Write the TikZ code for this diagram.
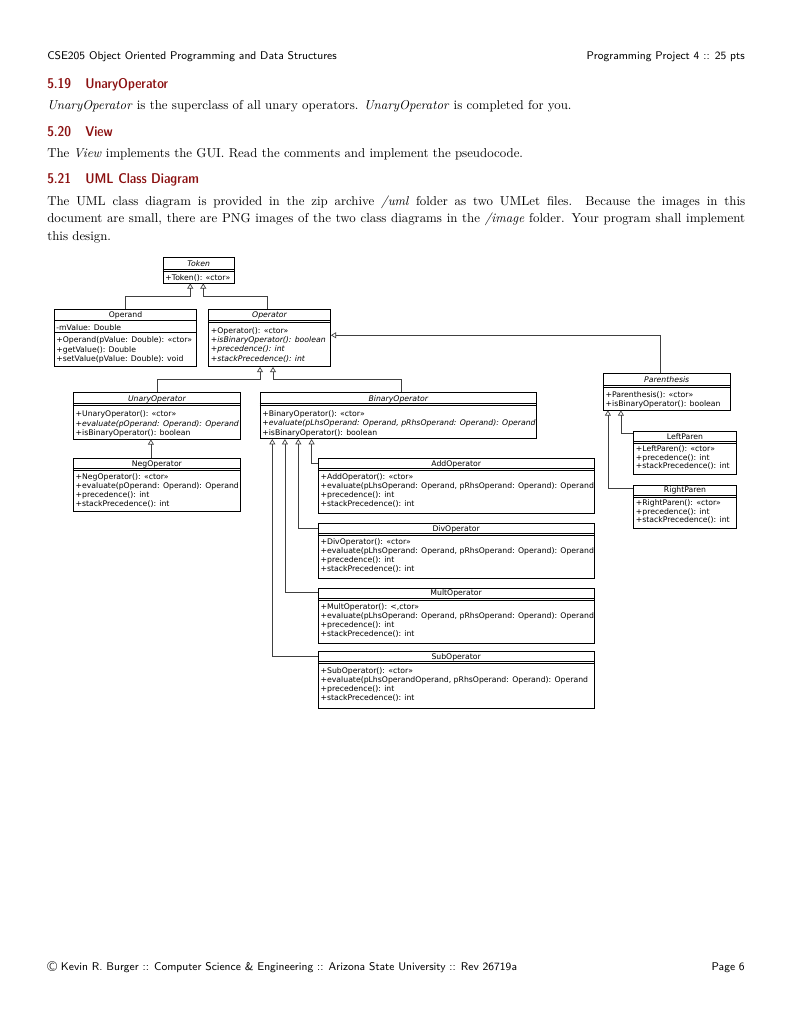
\documentclass[tikz,border=0pt]{standalone}
\usepackage{fontspec}
\newfontfamily\umlfont{DejaVu Sans}
\usetikzlibrary{arrows.meta, calc, fit}
\definecolor{secred}{RGB}{139,16,16}

\tikzset{
  hdr/.style={font={\fontsize{8.7}{10.5}\sffamily}, inner sep=0pt},
  sec/.style={font={\fontsize{11}{13}\fontseries{sbc}\sffamily}, text=secred, anchor=base west, inner sep=0pt},
  body/.style={font=\normalsize, anchor=base west, inner sep=0pt},
  cls/.style={draw, line width=0.6bp, inner sep=0pt},
  ctitle/.style={font={\umlfont\fontsize{6}{6}\selectfont}, inner sep=0pt, anchor=center},
  crow/.style={font={\umlfont\fontsize{6}{6}\selectfont}, inner sep=0pt, anchor=mid west},
  sepline/.style={line width=0.5bp},
  genarrow/.style={draw=black!75, line width=0.5bp, -{Triangle[open, length=4bp, width=4.6bp]}}
}

\begin{document}
\begin{tikzpicture}[x=0.7737bp, y=-0.7737bp]
  \useasboundingbox[fill=white] (0,0) rectangle (791,1024);

  % --- page header ---
  \node[hdr, anchor=base west] (hleft)  at (47,59.5)  {CSE205 Object Oriented Programming and Data Structures};
  \node[hdr, anchor=base east] (hright) at (745,59.5) {Programming Project 4 :: 25 pts};

  % --- sections and text ---
  \node[sec]  (s519) at (47,89)    {5.19\quad UnaryOperator};
  \node[body] (t519) at (47,110)   {\textit{UnaryOperator} is the superclass of all unary operators. \textit{UnaryOperator} is completed for you.};
  \node[sec]  (s520) at (47,136.5) {5.20\quad View};
  \node[body] (t520) at (47,157.5) {The \textit{View} implements the GUI. Read the comments and implement the pseudocode.};
  \node[sec]  (s521) at (47,184)   {5.21\quad UML Class Diagram};
  \node[body] (p1) at (47,205.5) {\makebox[540bp][s]{The UML class diagram is provided in the zip archive \textit{/uml} folder as two UMLet files. Because the images in this}};
  \node[body] (p2) at (47,222.7) {\makebox[540bp][s]{document are small, there are PNG images of the two class diagrams in the \textit{/image} folder. Your program shall implement}};
  \node[body] (p3) at (47,240)   {this design.};

  % --- class boxes ---
  \node[cls, fit={(163,257) (234.5,283)}]       (tok)      {};
  \node[cls, fit={(54.5,309) (196.5,366.5)}]    (operand)  {};
  \node[cls, fit={(208.5,309) (330.5,366.5)}]   (operator) {};
  \node[cls, fit={(603.3,373.5) (730,410)}]     (paren)    {};
  \node[cls, fit={(73.3,392.7) (240.5,439)}]    (unary)    {};
  \node[cls, fit={(260,392.7) (536.7,438.7)}]   (binary)   {};
  \node[cls, fit={(73.3,458) (240.5,511.5)}]    (neg)      {};
  \node[cls, fit={(318.3,458.5) (594,513.5)}]   (add)      {};
  \node[cls, fit={(318.3,523.5) (594,578.3)}]   (div)      {};
  \node[cls, fit={(318.3,588) (594,643.3)}]     (mult)     {};
  \node[cls, fit={(318.3,651.7) (594,708)}]     (sub)      {};
  \node[cls, fit={(633.5,431) (736.5,474.5)}]   (lparen)   {};
  \node[cls, fit={(633.5,485.5) (736.5,528)}]   (rparen)   {};

  % titles
  \node[ctitle] (tok-t)      at ($(tok.north)+(0,7.5)$)      {\itshape Token};
  \node[ctitle] (operand-t)  at ($(operand.north)+(0,6.5)$)  {Operand};
  \node[ctitle] (operator-t) at ($(operator.north)+(0,6.5)$) {\itshape Operator};
  \node[ctitle] (paren-t)    at ($(paren.north)+(0,6.8)$)    {\itshape Parenthesis};
  \node[ctitle] (unary-t)    at ($(unary.north)+(0,7)$)      {\itshape UnaryOperator};
  \node[ctitle] (binary-t)   at ($(binary.north)+(0,7)$)     {\itshape BinaryOperator};
  \node[ctitle] (neg-t)      at ($(neg.north)+(0,6.5)$)      {NegOperator};
  \node[ctitle] (add-t)      at ($(add.north)+(0,6)$)        {AddOperator};
  \node[ctitle] (div-t)      at ($(div.north)+(0,6)$)        {DivOperator};
  \node[ctitle] (mult-t)     at ($(mult.north)+(0,6)$)       {MultOperator};
  \node[ctitle] (sub-t)      at ($(sub.north)+(0,6)$)        {SubOperator};
  \node[ctitle] (lparen-t)   at ($(lparen.north)+(0,5.8)$)   {LeftParen};
  \node[ctitle] (rparen-t)   at ($(rparen.north)+(0,5.5)$)   {RightParen};

  % compartment lines (double line = empty attribute part)
  \foreach \n/\o in {tok/13, operator/11.5, paren/12, unary/11.3, binary/11, neg/11,
                     add/10.5, div/10.5, mult/10.7, sub/10.4, lparen/10.3, rparen/10}{
    \draw[sepline] ($(\n.north west)+(0,\o)$)   -- ($(\n.north east)+(0,\o)$);
    \draw[sepline] ($(\n.north west)+(0,\o+2)$) -- ($(\n.north east)+(0,\o+2)$);
  }
  \draw[sepline] ($(operand.north west)+(0,12)$) -- ($(operand.north east)+(0,12)$);
  \draw[sepline] ($(operand.north west)+(0,24)$) -- ($(operand.north east)+(0,24)$);

  % members
  \node[crow] (tok-1) at ($(tok.north west)+(2.5,21.6)$) {+Token(): «ctor»};
  \node[crow] (operand-a) at ($(operand.north west)+(2,19.3)$) {-mValue: Double};
  \foreach \t [count=\i] in {{+Operand(pValue: Double): «ctor»}, {+getValue(): Double}, {+setValue(pValue: Double): void}}
    \node[crow] (operand-\i) at ($(operand.north west)+(2,{31.3+9.4*(\i-1)})$) {\t};
  \foreach \t [count=\i] in {{+Operator(): «ctor»}, {\itshape +isBinaryOperator(): boolean}, {\itshape +precedence(): int}, {\itshape +stackPrecedence(): int}}
    \node[crow] (operator-\i) at ($(operator.north west)+(2.5,{21.8+9.4*(\i-1)})$) {\t};
  \foreach \t [count=\i] in {{+Parenthesis(): «ctor»}, {+isBinaryOperator(): boolean}}
    \node[crow] (paren-\i) at ($(paren.north west)+(2.5,{21.8+8.6*(\i-1)})$) {\t};
  \foreach \t [count=\i] in {{+UnaryOperator(): «ctor»}, {\itshape +evaluate(pOperand: Operand): Operand}, {+isBinaryOperator(): boolean}}
    \node[crow] (unary-\i) at ($(unary.north west)+(2.5,{21.6+9.4*(\i-1)})$) {\t};
  \foreach \t [count=\i] in {{+BinaryOperator(): «ctor»}, {\itshape +evaluate(pLhsOperand: Operand, pRhsOperand: Operand): Operand}, {+isBinaryOperator(): boolean}}
    \node[crow] (binary-\i) at ($(binary.north west)+(2.5,{21.3+9.4*(\i-1)})$) {\t};
  \foreach \t [count=\i] in {{+NegOperator(): «ctor»}, {+evaluate(pOperand: Operand): Operand}, {+precedence(): int}, {+stackPrecedence(): int}}
    \node[crow] (neg-\i) at ($(neg.north west)+(2.5,{19.5+9*(\i-1)})$) {\t};
  \foreach \t [count=\i] in {{+AddOperator(): «ctor»}, {+evaluate(pLhsOperand: Operand, pRhsOperand: Operand): Operand}, {+precedence(): int}, {+stackPrecedence(): int}}
    \node[crow] (add-\i) at ($(add.north west)+(2.5,{18.5+9*(\i-1)})$) {\t};
  \foreach \t [count=\i] in {{+DivOperator(): «ctor»}, {+evaluate(pLhsOperand: Operand, pRhsOperand: Operand): Operand}, {+precedence(): int}, {+stackPrecedence(): int}}
    \node[crow] (div-\i) at ($(div.north west)+(2.5,{18.3+9*(\i-1)})$) {\t};
  \foreach \t [count=\i] in {{+MultOperator(): <,ctor»}, {+evaluate(pLhsOperand: Operand, pRhsOperand: Operand): Operand}, {+precedence(): int}, {+stackPrecedence(): int}}
    \node[crow] (mult-\i) at ($(mult.north west)+(2.5,{18.8+9*(\i-1)})$) {\t};
  \foreach \t [count=\i] in {{+SubOperator(): «ctor»}, {+evaluate(pLhsOperandOperand, pRhsOperand: Operand): Operand}, {+precedence(): int}, {+stackPrecedence(): int}}
    \node[crow] (sub-\i) at ($(sub.north west)+(2.5,{19+9.1*(\i-1)})$) {\t};
  \foreach \t [count=\i] in {{+LeftParen(): «ctor»}, {+precedence(): int}, {+stackPrecedence(): int}}
    \node[crow] (lparen-\i) at ($(lparen.north west)+(2.5,{18.3+8.6*(\i-1)})$) {\t};
  \foreach \t [count=\i] in {{+RightParen(): «ctor»}, {+precedence(): int}, {+stackPrecedence(): int}}
    \node[crow] (rparen-\i) at ($(rparen.north west)+(2.5,{17.8+8.6*(\i-1)})$) {\t};

  % --- generalizations ---
  \draw[genarrow] (operand.north) -- ++(0,-12) -| ($(tok.south)+(-8.5,0)$);
  \draw[genarrow] ($(operator.north)+(-2.5,0)$) -- ++(0,-12) -| ($(tok.south)+(4.5,0)$);
  \draw[genarrow] ($(paren.north)+(-6,0)$) |- ($(operator.east)+(0,-2.5)$);
  \draw[genarrow] (unary.north) -- ++(0,-12.7) -| ($(operator.south)+(-9.5,0)$);
  \draw[genarrow] ($(binary.north)+(3.3,0)$) -- ++(0,-12.7) -| ($(operator.south)+(3.5,0)$);
  \draw[genarrow] ($(neg.north)+(-6,0)$) -- ($(unary.south)+(-6,0)$);
  \draw[genarrow] ($(add.north west)+(0,5)$)    -| ($(binary.south west)+(52,0)$);
  \draw[genarrow] ($(div.north west)+(0,5)$)    -| ($(binary.south west)+(38.7,0)$);
  \draw[genarrow] ($(mult.north west)+(0,5)$)   -| ($(binary.south west)+(25.3,0)$);
  \draw[genarrow] ($(sub.north west)+(0,5.5)$)  -| ($(binary.south west)+(12.7,0)$);
  \draw[genarrow] ($(lparen.north west)+(0,2.5)$) -| ($(paren.south west)+(18,0)$);
  \draw[genarrow] ($(rparen.north west)+(0,3.5)$) -| ($(paren.south west)+(5,0)$);

  % --- page footer ---
  \node[hdr, anchor=base west] (fleft)  at (47,970.5)  {{\fontsize{11}{11}\selectfont\raisebox{-0.15ex}{©}} Kevin R. Burger :: Computer Science \& Engineering :: Arizona State University :: Rev 26719a};
  \node[hdr, anchor=base east] (fright) at (745,970.5) {Page 6};
\end{tikzpicture}
\end{document}
